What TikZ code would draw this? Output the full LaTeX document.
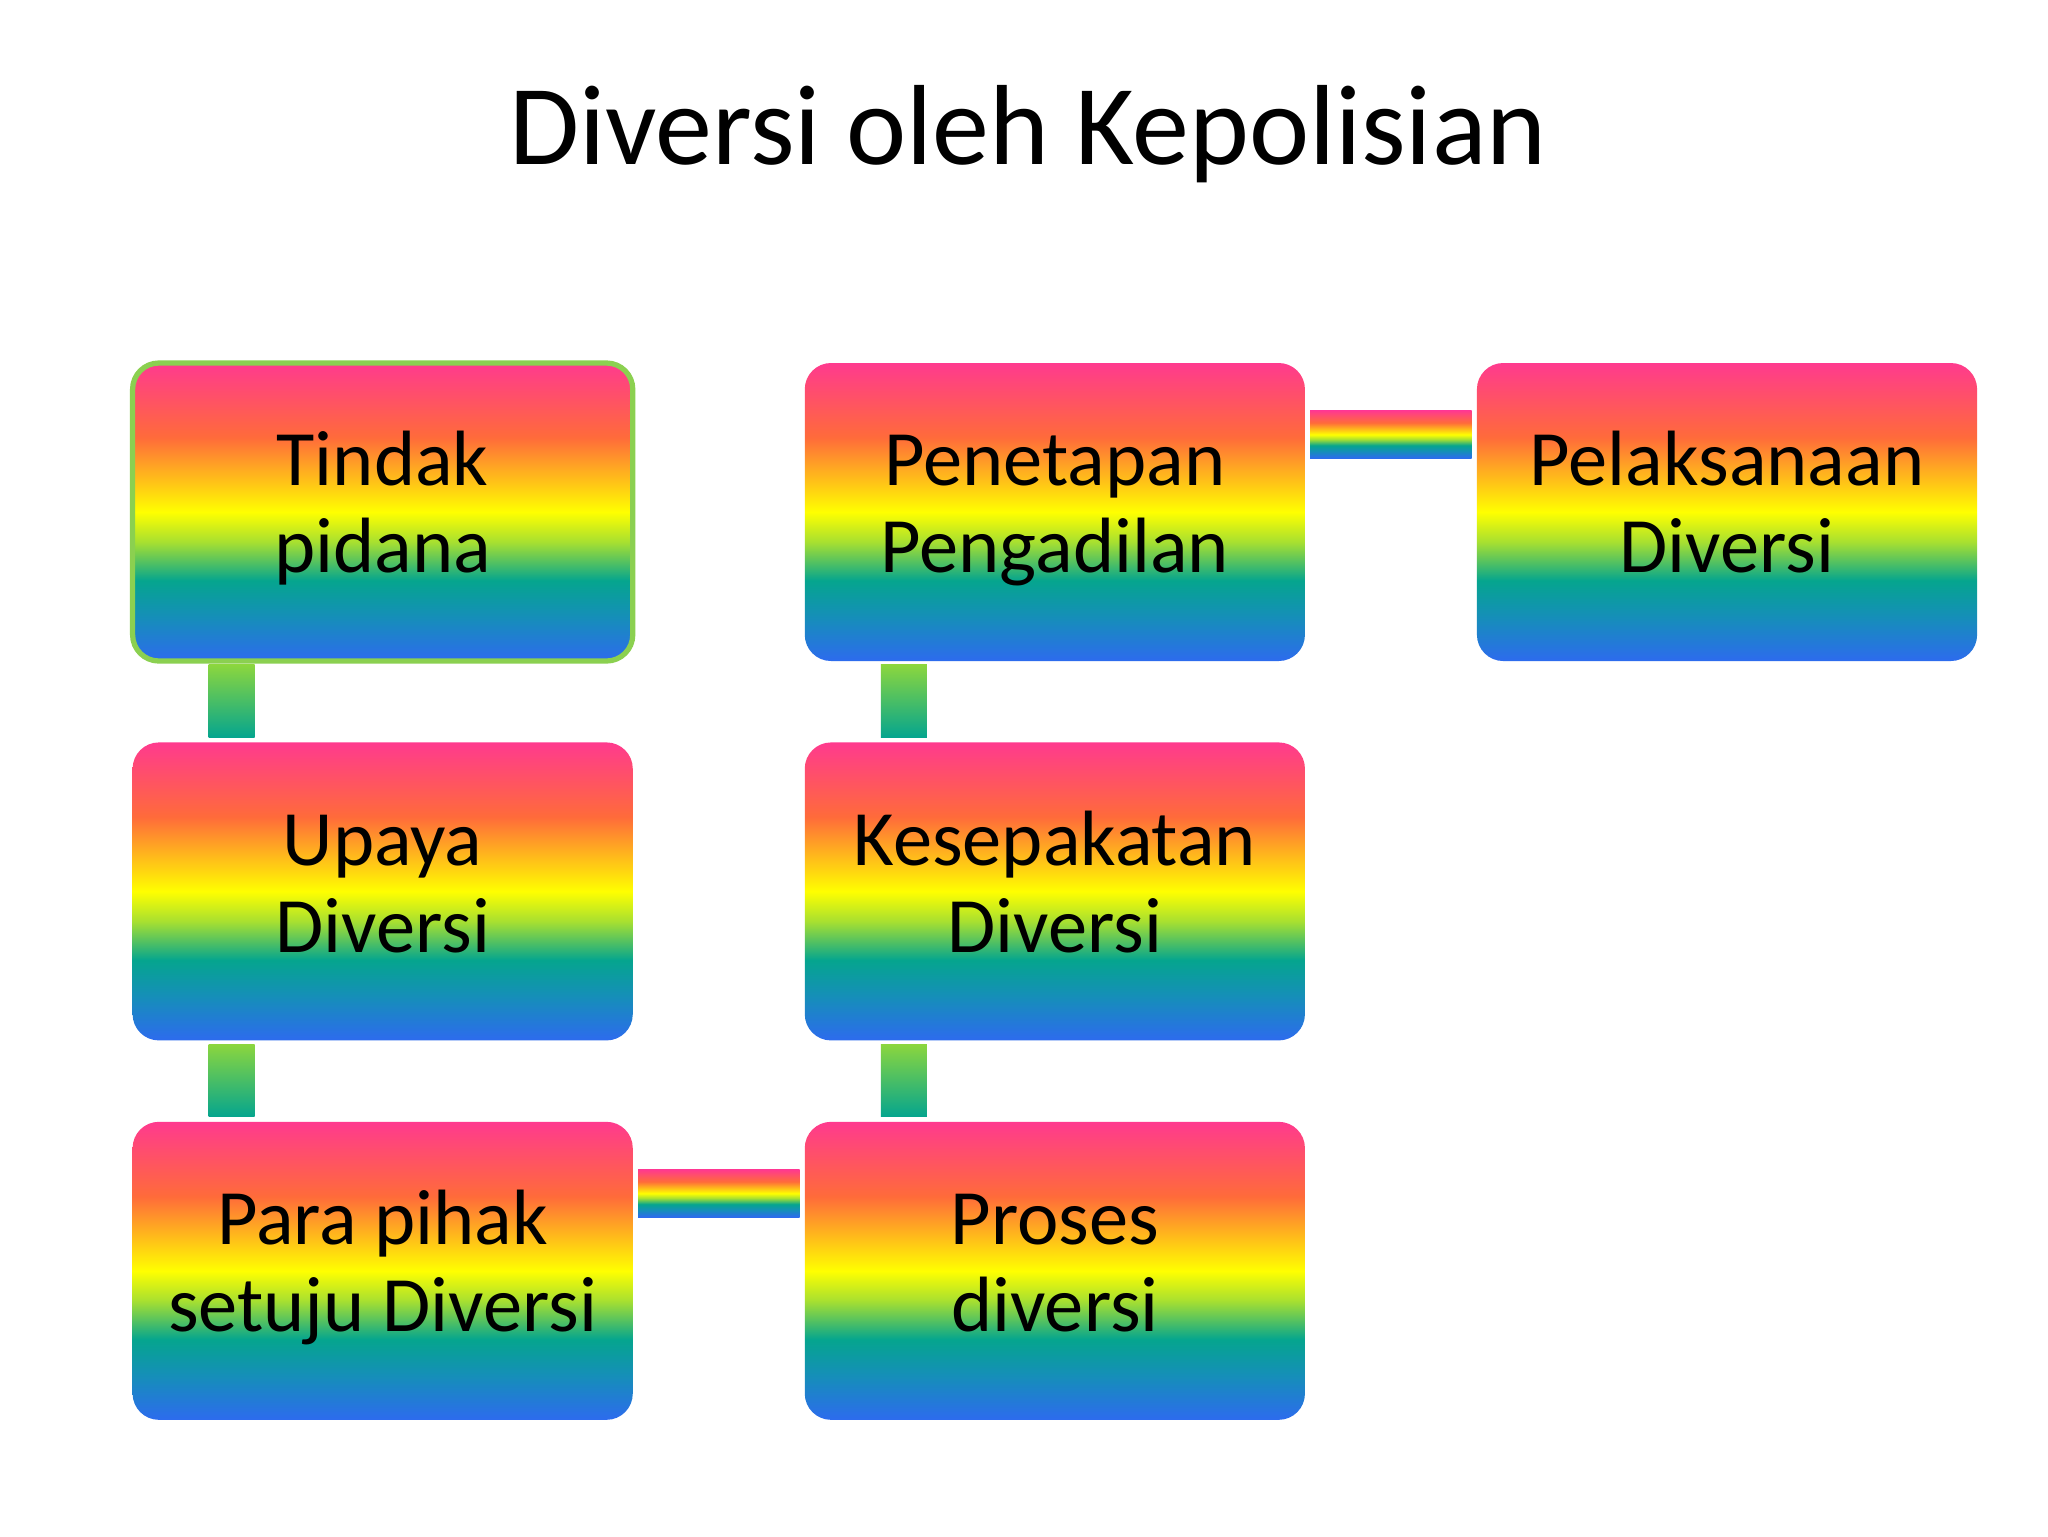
\documentclass[tikz,border=0pt]{standalone}
\usepackage{fontspec}
\setmainfont{Carlito}
\definecolor{mPink}{HTML}{FF3A8E}
\definecolor{mOrange}{HTML}{FF6B3A}
\definecolor{mYellow}{HTML}{FFFF00}
\definecolor{mLime}{HTML}{A8E030}
\definecolor{mTeal}{HTML}{05A58E}
\definecolor{mCyan}{HTML}{158FB8}
\definecolor{mBlue}{HTML}{2D6BEE}
\definecolor{mGreen}{HTML}{8BD050}
\definecolor{mLink}{HTML}{8BD63E}
\pgfdeclareverticalshading{rainbow}{100bp}{color(0bp)=(mBlue); color(25bp)=(mBlue); color(32.5bp)=(mCyan); color(38.5bp)=(mTeal); color(45bp)=(mLime); color(50bp)=(mYellow); color(62.5bp)=(mOrange); color(75bp)=(mPink); color(100bp)=(mPink)}

\begin{document}
\begin{tikzpicture}[x=0.1mm, y=-0.1mm,
		box/.style={rectangle, rounded corners=2mm, minimum width=38.1mm, minimum height=22.7mm, inner sep=0pt, outer sep=0pt, shade, shading=rainbow, align=center, font=\fontsize{17}{18.8}\selectfont},
		vlink/.style={top color=mLink, bottom color=mTeal},
		hlink/.style={shade, shading=rainbow}]
		\fill[white] (0,0) rectangle (1560,1170);
		\useasboundingbox (0,0) rectangle (1560,1170);
		\node[anchor=base, font=\fontsize{24.7}{30}\selectfont] (title) at (783,125) {Diversi oleh Kepolisian};
		\node[box, draw=mGreen, line width=0.4mm] (tindak) at (291.5,390) {\strut Tindak\\\strut pidana};
		\foreach \px /\py /\nm /\la /\lb in {
			291.5/679/upaya/Upaya/Diversi,
			291.5/968/para/Para pihak/setuju Diversi,
			803.5/390/penetapan/Penetapan/Pengadilan,
			803.5/679/kesepakatan/Kesepakatan/Diversi,
			803.5/968/proses/Proses/diversi,
			1315.5/390/pelaksanaan/Pelaksanaan/Diversi
		}{
			\node[box] (\nm) at (\px,\py) {\strut\la\\\strut\lb};
		}
		\foreach \a /\b in {tindak/upaya, upaya/para, penetapan/kesepakatan, kesepakatan/proses}
		{\path[vlink] ([xshift=5.8mm,yshift=-0.3mm]\a.south west) rectangle ([xshift=9.3mm,yshift=0.4mm]\b.north west);}
		\foreach \a /\b in {para/proses, penetapan/pelaksanaan}
		{\path[hlink] ([xshift=0.4mm,yshift=7.7mm]\a.east) rectangle ([xshift=-0.4mm,yshift=4.1mm]\b.west);}
	\end{tikzpicture}
\end{document}
